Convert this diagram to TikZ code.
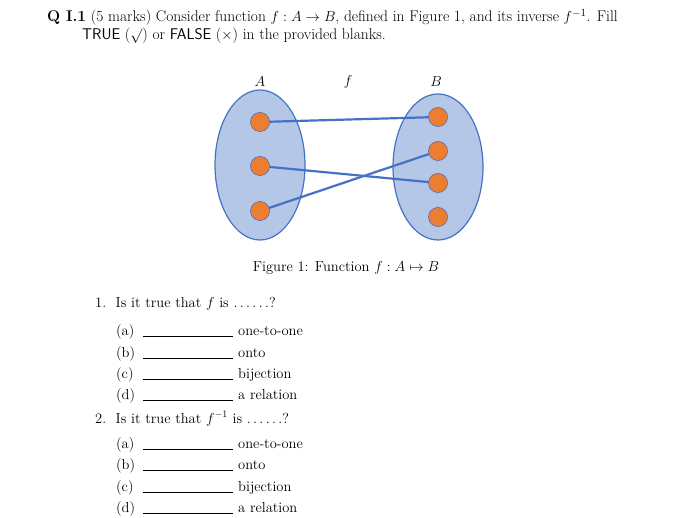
\documentclass[tikz,border=0pt]{standalone}
\usepackage{amsmath}
\usepackage{amssymb}
\usetikzlibrary{positioning}
\definecolor{setfill}{RGB}{180,199,231}
\definecolor{setline}{RGB}{68,114,196}
\definecolor{dotfill}{RGB}{237,125,49}
\begin{document}
\begin{tikzpicture}[x=1pt,y=-1pt,font=\fontsize{14.5}{17}\selectfont]
  \tikzset{setellipse/.style = {draw=setline,fill=setfill,line width=1.2pt}}
  \tikzset{elem/.style = {shape=circle,fill=dotfill,draw=setline,line width=0.4pt,minimum size=19pt,inner sep=0pt}}
  \tikzset{mapedge/.style = {draw=setline,line width=2.2pt}}
  \tikzset{txt/.style = {anchor=base west,inner sep=0pt}}
  \useasboundingbox (0,0) rectangle (700,518);

  % heading
  \node[txt,font=\fontsize{15.5}{18}\selectfont] (q1) at (47,22) {\textbf{Q I.1} (5 marks) Consider function $f:A\to B$, defined in Figure 1, and its inverse $f^{-1}$. Fill};
  \node[txt,font=\fontsize{15.5}{18}\selectfont] (q2) at (82,40) {\textsf{TRUE} ($\surd$) or \textsf{FALSE} ($\times$) in the provided blanks.};

  % the two sets
  \draw[setellipse] (260,165) ellipse [x radius=45, y radius=75];
  \draw[setellipse] (438,167) ellipse [x radius=45, y radius=73];
  \node (A) at (260,82) {$A$};
  \node (f) at (348,82) {$f$};
  \node (B) at (436,82) {$B$};

  \foreach \n/\y in {1/122,2/166,3/211}
    \node[elem] (a\n) at (260,\y) {};
  \foreach \n/\y in {1/117,2/151,3/183,4/217}
    \node[elem] (b\n) at (438,\y) {};

  \foreach \from/\to in {a1/b1, a2/b3, a3/b2}
    \draw[mapedge] (\from.center) -- (\to.center);
  \foreach \n in {1,2,3}
    \node[elem] at (a\n) {};
  \foreach \n in {1,2,3,4}
    \node[elem] at (b\n) {};

  \node (cap) at (346,268) {Figure 1: Function $f:A\mapsto B$};

  % questions
  \node[txt] (p1) at (95,307) {1.\ \ Is it true that $f$ is $\ldots\ldots$?};
  \node[txt] (p2) at (95,423) {2.\ \ Is it true that $f^{-1}$ is $\ldots\ldots$?};
  \foreach \y/\lab/\word in {335/a/one-to-one, 357/b/onto, 378/c/bijection, 399/d/a relation,
                             448/a/one-to-one, 469/b/onto, 491/c/bijection, 512/d/a relation} {
    \node[txt] (it\lab\y) at (116,\y) {(\lab)};
    \draw[line width=0.5pt] (143,\y+1) -- (233,\y+1);
    \node[txt] (w\lab\y) at (238,\y) {\word};
  }
\end{tikzpicture}
\end{document}
